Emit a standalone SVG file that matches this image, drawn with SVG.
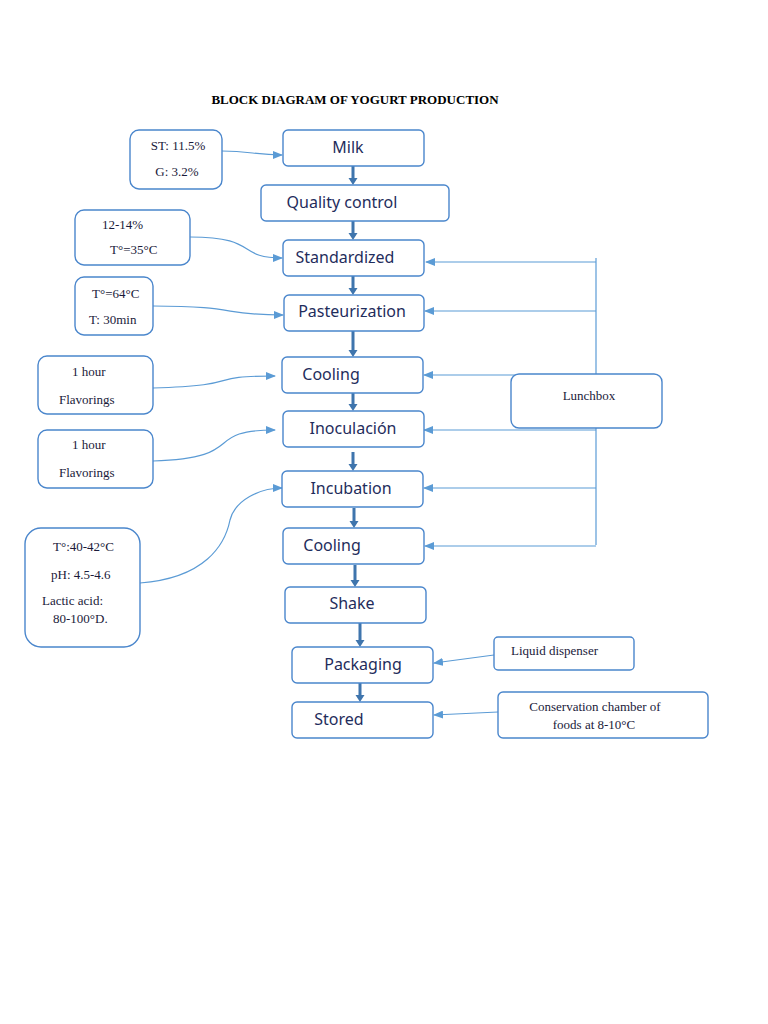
<svg xmlns="http://www.w3.org/2000/svg" width="768" height="1024" viewBox="0 0 768 1024">
<style>
.b{fill:#fff;stroke:#4a86cc;stroke-width:1.4}
.m{font-family:"Noto Sans",sans-serif;font-size:16px;fill:#1f2d5c}
.s{font-family:"Liberation Serif",serif;font-size:13px;fill:#1a1a3a}
.c{fill:none;stroke:#5b9bd5;stroke-width:1.2}
.t{stroke:#3f75ad;stroke-width:4}
</style>
<defs>
<marker id="a" markerWidth="10" markerHeight="8" refX="9" refY="4" orient="auto" markerUnits="userSpaceOnUse"><path d="M0,0L10,4L0,8z" fill="#5b9bd5"/></marker>
<marker id="T" markerWidth="10" markerHeight="8" refX="5" refY="1" orient="auto-start-reverse" markerUnits="userSpaceOnUse"><path d="M0,0L10,0L5,6z" fill="#3f75ad" transform="rotate(-90 5 4) translate(0 0)"/></marker>
</defs>
<rect width="768" height="1024" fill="#fff"/>
<text x="355" y="104" text-anchor="middle" font-family="Liberation Serif,serif" font-weight="bold" font-size="13">BLOCK DIAGRAM OF YOGURT PRODUCTION</text>
<g id="connectors">
<g fill="#3f75ad">
<path d="M351.5,166h3v12h3l-4.5,7l-4.5-7h3z"/>
<path d="M351.5,221h3v12h3l-4.5,7l-4.5-7h3z"/>
<path d="M351.5,276h3v12h3l-4.5,7l-4.5-7h3z"/>
<path d="M351.5,331h3v19h3l-4.5,7l-4.5-7h3z"/>
<path d="M351.5,393h3v11h3l-4.5,7l-4.5-7h3z"/>
<path d="M351.5,452h3v12h3l-4.5,7l-4.5-7h3z"/>
<path d="M352.5,508h3v13h3l-4.5,7l-4.5-7h3z"/>
<path d="M353.5,565h3v15h3l-4.5,7l-4.5-7h3z"/>
<path d="M358.5,623h3v17h3l-4.5,7l-4.5-7h3z"/>
<path d="M358.5,683h3v12h3l-4.5,7l-4.5-7h3z"/>
</g>
<path class="c" d="M222,151C250,151 255,155 282,155" marker-end="url(#a)"/>
<path class="c" d="M190,237C260,237 235,258 282,258" marker-end="url(#a)"/>
<path class="c" d="M153,306C240,306 220,315 283,315" marker-end="url(#a)"/>
<path class="c" d="M153,388C250,385 200,376 275,376" marker-end="url(#a)"/>
<path class="c" d="M153,461C250,458 200,430 275,430" marker-end="url(#a)"/>
<path class="c" d="M140,583C205,578 225,545 230,520C235,500 260,488 282,488" marker-end="url(#a)"/>
<path class="c" d="M596,258V545"/>
<path class="c" d="M596,262H426" marker-end="url(#a)"/>
<path class="c" d="M596,311H425" marker-end="url(#a)"/>
<path class="c" d="M596,375H424" marker-end="url(#a)"/>
<path class="c" d="M596,430H424" marker-end="url(#a)"/>
<path class="c" d="M596,488H424" marker-end="url(#a)"/>
<path class="c" d="M596,546H425" marker-end="url(#a)"/>
<path class="c" d="M494,655L434,663" marker-end="url(#a)"/>
<path class="c" d="M498,712L434,715" marker-end="url(#a)"/>
</g>
<g id="milk"><rect class="b" x="283" y="130" width="141" height="36" rx="5"/><text class="m" x="348" y="153" text-anchor="middle">Milk</text></g>
<g id="qc"><rect class="b" x="261" y="185" width="188" height="36" rx="5"/><text class="m" x="342" y="208" text-anchor="middle">Quality control</text></g>
<g id="std"><rect class="b" x="283" y="240" width="141" height="36" rx="5"/><text class="m" x="345" y="263" text-anchor="middle">Standardized</text></g>
<g id="past"><rect class="b" x="284" y="295" width="140" height="36" rx="5"/><text class="m" x="352" y="317" text-anchor="middle">Pasteurization</text></g>
<g id="cool1"><rect class="b" x="282" y="357" width="141" height="36" rx="5"/><text class="m" x="331" y="380" text-anchor="middle">Cooling</text></g>
<g id="inoc"><rect class="b" x="283" y="411" width="141" height="36" rx="5"/><text class="m" x="353" y="434" text-anchor="middle">Inoculación</text></g>
<g id="incub"><rect class="b" x="282" y="471" width="141" height="36" rx="5"/><text class="m" x="351" y="494" text-anchor="middle">Incubation</text></g>
<g id="cool2"><rect class="b" x="283" y="528" width="141" height="36" rx="5"/><text class="m" x="332" y="551" text-anchor="middle">Cooling</text></g>
<g id="shake"><rect class="b" x="285" y="587" width="141" height="36" rx="5"/><text class="m" x="352" y="609" text-anchor="middle">Shake</text></g>
<g id="pack"><rect class="b" x="292" y="647" width="141" height="36" rx="5"/><text class="m" x="363" y="670" text-anchor="middle">Packaging</text></g>
<g id="stored"><rect class="b" x="292" y="702" width="141" height="36" rx="5"/><text class="m" x="339" y="725" text-anchor="middle">Stored</text></g>
<g id="st"><rect class="b" x="130" y="130" width="92" height="59" rx="9"/><text class="s" x="178" y="150" text-anchor="middle">ST: 11.5%</text><text class="s" x="177" y="176" text-anchor="middle">G: 3.2%</text></g>
<g id="s1214"><rect class="b" x="75" y="210" width="115" height="55" rx="9"/><text class="s" x="102" y="229">12-14%</text><text class="s" x="110" y="254">T°=35°C</text></g>
<g id="t64"><rect class="b" x="75" y="277" width="78" height="58" rx="9"/><text class="s" x="92" y="298">T°=64°C</text><text class="s" x="89" y="324">T: 30min</text></g>
<g id="h1"><rect class="b" x="38" y="356" width="115" height="58" rx="9"/><text class="s" x="72" y="376">1 hour</text><text class="s" x="59" y="404">Flavorings</text></g>
<g id="h2"><rect class="b" x="38" y="430" width="115" height="58" rx="9"/><text class="s" x="72" y="449">1 hour</text><text class="s" x="59" y="477">Flavorings</text></g>
<g id="t40"><rect class="b" x="25" y="528" width="115" height="119" rx="16"/><text class="s" x="53" y="551">T°:40-42°C</text><text class="s" x="51" y="579">pH: 4.5-4.6</text><text class="s" x="42" y="605">Lactic acid:</text><text class="s" x="53" y="623">80-100°D.</text></g>
<g id="lunch"><rect class="b" x="511" y="374" width="151" height="54" rx="8"/><text class="s" x="589" y="400" text-anchor="middle">Lunchbox</text></g>
<g id="liquid"><rect class="b" x="494" y="637" width="140" height="33" rx="4"/><text class="s" x="511" y="655">Liquid  dispenser</text></g>
<g id="cons"><rect class="b" x="498" y="692" width="210" height="46" rx="5"/><text class="s" x="595" y="711" text-anchor="middle">Conservation chamber of</text><text class="s" x="594" y="729" text-anchor="middle">foods at 8-10°C</text></g>
</svg>
